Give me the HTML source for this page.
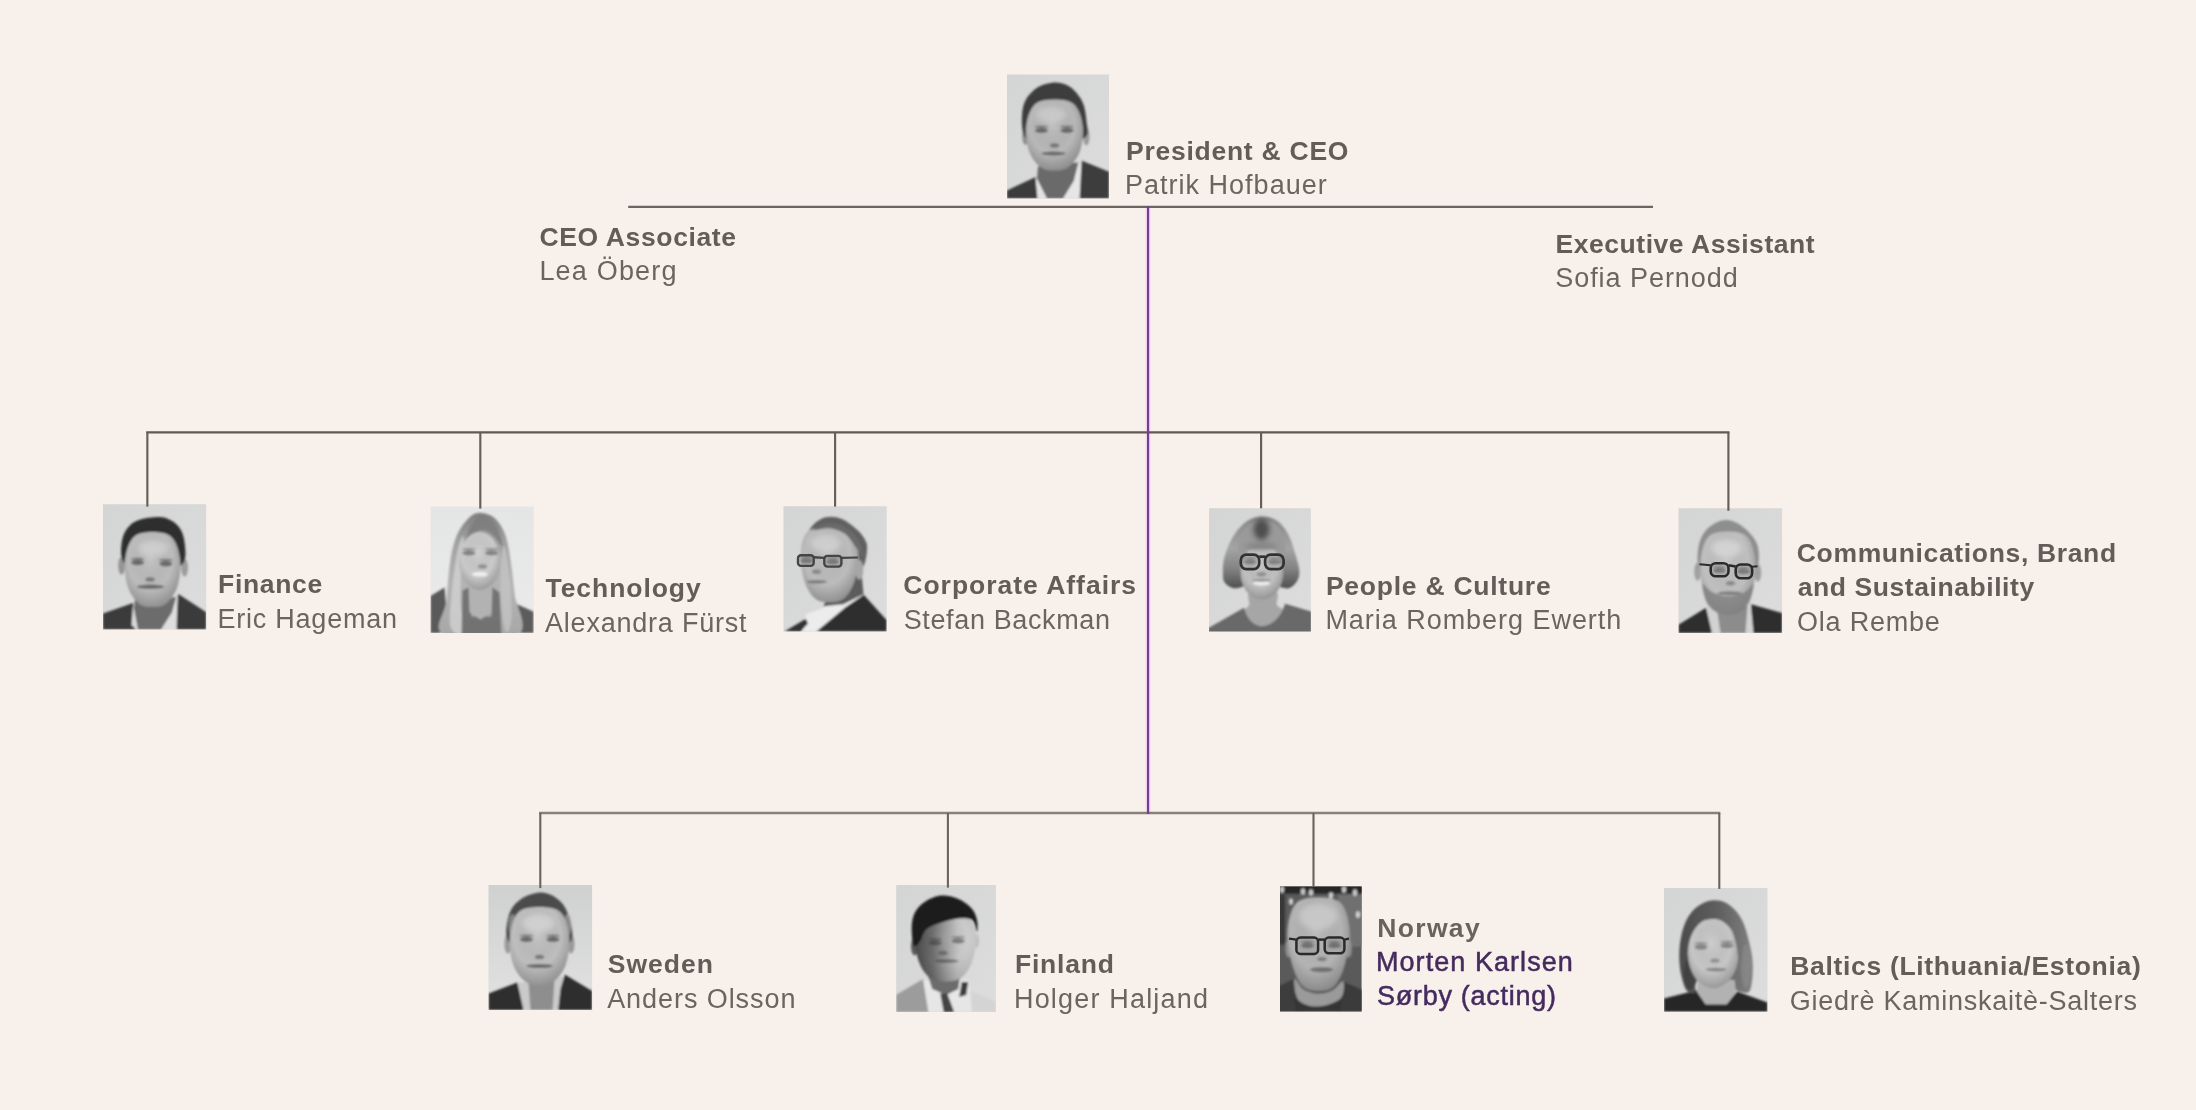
<!DOCTYPE html>
<html lang="en"><head><meta charset="utf-8"><title>Organisation</title>
<style>
html,body{margin:0;padding:0}
body{width:2196px;height:1110px;background:#f8f0eb;position:relative;overflow:hidden;font-family:"Liberation Sans",sans-serif}
.t{position:absolute;white-space:nowrap;font-size:26.5px;line-height:32px;height:32px}
svg.ph{position:absolute;display:block;overflow:hidden}
#ln{position:absolute;left:0;top:0}
#tx{position:absolute;left:0;top:0;width:2196px;height:1110px;will-change:transform}
</style></head><body>
<svg id="ln" width="2196" height="1110" viewBox="0 0 2196 1110">
<defs>
<filter id="b1" x="-20%" y="-20%" width="140%" height="140%"><feGaussianBlur stdDeviation="1.1"/></filter>
<filter id="b2" x="-40%" y="-40%" width="180%" height="180%"><feGaussianBlur stdDeviation="2.6"/></filter>
<filter id="b0" x="-20%" y="-20%" width="140%" height="140%"><feGaussianBlur stdDeviation="0.7"/></filter>
<radialGradient id="fg" cx="0.46" cy="0.36" r="0.72"><stop offset="0" stop-color="#fff" stop-opacity="0.14"/><stop offset="0.55" stop-color="#000" stop-opacity="0"/><stop offset="1" stop-color="#000" stop-opacity="0.30"/></radialGradient>
<linearGradient id="bgA" x1="0" y1="0" x2="1" y2="1"><stop offset="0" stop-color="#d3d4d4"/><stop offset="1" stop-color="#dddddd"/></linearGradient>
<linearGradient id="bgB" x1="0" y1="0" x2="0" y2="1"><stop offset="0" stop-color="#e4e5e5"/><stop offset="1" stop-color="#ebebeb"/></linearGradient>
<linearGradient id="bgC" x1="0" y1="0" x2="0" y2="1"><stop offset="0" stop-color="#cfd0d0"/><stop offset="1" stop-color="#e2e2e2"/></linearGradient>
<linearGradient id="faceLR" x1="0" y1="0" x2="1" y2="0"><stop offset="0" stop-color="#4a4a4a"/><stop offset="0.3" stop-color="#6e6e6e"/><stop offset="0.5" stop-color="#9a9a9a"/><stop offset="0.7" stop-color="#c4c4c4"/><stop offset="1" stop-color="#d4d4d4"/></linearGradient>
<linearGradient id="hairPC" gradientUnits="userSpaceOnUse" x1="0" y1="8" x2="0" y2="80"><stop offset="0" stop-color="#868686"/><stop offset="0.45" stop-color="#a4a4a4"/><stop offset="0.72" stop-color="#848484"/><stop offset="1" stop-color="#505050"/></linearGradient>
<linearGradient id="hairT" gradientUnits="userSpaceOnUse" x1="0" y1="6" x2="0" y2="126"><stop offset="0" stop-color="#7e7e7e"/><stop offset="0.25" stop-color="#a2a2a2"/><stop offset="0.6" stop-color="#b4b4b4"/><stop offset="1" stop-color="#a8a8a8"/></linearGradient>
<linearGradient id="hairB" gradientUnits="userSpaceOnUse" x1="16" y1="0" x2="89" y2="0"><stop offset="0" stop-color="#4c4c4c"/><stop offset="0.5" stop-color="#5e5e5e"/><stop offset="1" stop-color="#808080"/></linearGradient>
</defs>
<clipPath id="c0"><rect width="102" height="124"/></clipPath>
<g transform="translate(1007 74.5)" clip-path="url(#c0)">
<rect x="-2" y="-2" width="106" height="128" fill="url(#bgA)"/>
<g filter="url(#b1)"><polygon points="0.0,116.0 28.6,102.4 31.0,124.0 0.0,124.0" fill="#3b3b3b"/><polygon points="75.0,86.3 102.0,97.3 102.0,124.0 72.0,124.0 71.0,104.0" fill="#3c3c3c"/><polygon points="28.6,103.0 40.0,124.0 30.5,124.0" fill="#e2e2e2"/><polygon points="74.5,87.5 72.6,124.0 56.0,124.0 66.5,105.0" fill="#e6e6e6"/><polygon points="31.0,92.0 71.0,88.0 67.0,106.0 56.0,124.0 40.0,124.0 30.0,104.0" fill="#6a6a6a"/><ellipse cx="18.5" cy="62.0" rx="3.2" ry="8.5" fill="#8e8e8e"/><ellipse cx="79.3" cy="62.0" rx="3.2" ry="9.0" fill="#9a9a9a"/><path d="M17.6,62.0C14.3,56.5 14.3,40.8 16.0,33.0C17.6,25.2 22.6,19.1 27.5,15.0C32.4,10.9 39.5,8.7 45.3,8.2C51.1,7.7 57.5,8.8 62.5,12.0C67.5,15.2 72.7,21.7 75.5,27.5C78.3,33.3 78.9,41.2 79.5,47.0C80.1,52.8 82.2,58.8 79.0,62.0C75.8,65.2 67.2,65.3 60.0,66.0C52.8,66.7 43.1,66.7 36.0,66.0C28.9,65.3 20.9,67.5 17.6,62.0Z" fill="#3d3d3d"/><path d="M27.7,30.0C32.4,25.5 40.9,25.0 47.5,25.0C54.1,25.0 62.6,25.5 67.3,30.0C72.0,34.4 74.9,43.9 75.8,51.6C76.7,59.4 75.3,69.7 73.0,76.5C70.6,83.3 65.9,89.2 61.6,92.5C57.4,95.7 52.2,96.0 47.5,96.0C42.8,96.0 37.6,95.7 33.4,92.5C29.1,89.2 24.4,83.3 22.0,76.5C19.7,69.7 18.3,59.4 19.2,51.6C20.1,43.9 23.0,34.4 27.7,30.0Z" fill="#b8b8b8"/><path d="M27.7,30.0C32.4,25.5 40.9,25.0 47.5,25.0C54.1,25.0 62.6,25.5 67.3,30.0C72.0,34.4 74.9,43.9 75.8,51.6C76.7,59.4 75.3,69.7 73.0,76.5C70.6,83.3 65.9,89.2 61.6,92.5C57.4,95.7 52.2,96.0 47.5,96.0C42.8,96.0 37.6,95.7 33.4,92.5C29.1,89.2 24.4,83.3 22.0,76.5C19.7,69.7 18.3,59.4 19.2,51.6C20.1,43.9 23.0,34.4 27.7,30.0Z" fill="url(#fg)" opacity="1"/><g filter="url(#b2)"><ellipse cx="44.0" cy="40.0" rx="15.0" ry="8.0" fill="#d6d6d6" opacity="0.6"/></g><ellipse cx="34.5" cy="56.0" rx="6.5" ry="2.6" fill="#333" opacity="0.6"/><ellipse cx="34.5" cy="52.2" rx="7.0" ry="1.3" fill="#333" opacity="0.45"/><ellipse cx="60.0" cy="56.0" rx="6.5" ry="2.6" fill="#333" opacity="0.6"/><ellipse cx="60.0" cy="52.2" rx="7.0" ry="1.3" fill="#333" opacity="0.45"/><ellipse cx="47.5" cy="71.0" rx="4.6" ry="2.2" fill="#333" opacity="0.48"/><ellipse cx="46.5" cy="79.0" rx="12.0" ry="1.9" fill="#333" opacity="0.6"/></g>
</g>
<clipPath id="c1"><rect width="103.2" height="125.3"/></clipPath>
<g transform="translate(103 504.2)" clip-path="url(#c1)">
<rect x="-2" y="-2" width="107.2" height="129.3" fill="url(#bgA)"/>
<g filter="url(#b1)"><polygon points="0.0,109.4 30.0,98.9 32.0,125.3 0.0,125.3" fill="#3a3a3a"/><polygon points="75.3,89.7 103.2,108.1 103.2,125.3 73.5,125.3 73.0,104.0" fill="#3a3a3a"/><polygon points="30.0,100.5 35.0,125.3 28.5,121.2" fill="#dadada"/><polygon points="74.7,92.5 73.4,125.3 57.6,125.3 68.5,108.1" fill="#dedede"/><polygon points="32.0,95.0 73.0,93.0 69.0,108.0 58.0,125.3 35.0,125.3 31.0,104.0" fill="#6c6c6c"/><ellipse cx="18.6" cy="61.5" rx="3.4" ry="9.0" fill="#959595"/><ellipse cx="81.6" cy="63.4" rx="3.4" ry="9.0" fill="#9c9c9c"/><path d="M20.1,57.0C17.0,51.8 18.0,40.8 19.4,34.5C20.8,28.2 24.3,23.0 28.7,19.5C33.1,16.0 40.1,14.5 45.8,13.6C51.5,12.7 57.8,12.2 62.9,13.8C68.0,15.5 73.3,19.2 76.5,23.5C79.7,27.8 81.2,33.8 81.8,39.7C82.4,45.6 83.5,54.6 80.2,59.0C76.9,63.4 69.0,64.8 62.0,66.0C55.0,67.2 45.0,67.5 38.0,66.0C31.0,64.5 23.2,62.2 20.1,57.0Z" fill="#2f2f2f"/><path d="M30.3,33.2C34.9,28.5 43.2,27.9 49.6,27.9C56.0,27.9 64.3,28.5 68.9,33.2C73.5,37.8 76.3,47.8 77.2,56.0C78.1,64.2 76.7,75.1 74.4,82.3C72.1,89.5 67.5,95.7 63.4,99.2C59.3,102.6 54.2,102.9 49.6,102.9C45.0,102.9 39.9,102.6 35.8,99.2C31.7,95.7 27.1,89.5 24.8,82.3C22.5,75.1 21.1,64.2 22.0,56.0C22.9,47.8 25.7,37.8 30.3,33.2Z" fill="#bcbcbc"/><path d="M30.3,33.2C34.9,28.5 43.2,27.9 49.6,27.9C56.0,27.9 64.3,28.5 68.9,33.2C73.5,37.8 76.3,47.8 77.2,56.0C78.1,64.2 76.7,75.1 74.4,82.3C72.1,89.5 67.5,95.7 63.4,99.2C59.3,102.6 54.2,102.9 49.6,102.9C45.0,102.9 39.9,102.6 35.8,99.2C31.7,95.7 27.1,89.5 24.8,82.3C22.5,75.1 21.1,64.2 22.0,56.0C22.9,47.8 25.7,37.8 30.3,33.2Z" fill="url(#fg)" opacity="1"/><g filter="url(#b2)"><ellipse cx="50.0" cy="44.0" rx="15.0" ry="8.0" fill="#dadada" opacity="0.6"/></g><ellipse cx="34.6" cy="58.4" rx="6.5" ry="2.6" fill="#333" opacity="0.6"/><ellipse cx="34.6" cy="54.6" rx="7.0" ry="1.3" fill="#333" opacity="0.45"/><ellipse cx="62.9" cy="59.6" rx="6.5" ry="2.6" fill="#333" opacity="0.6"/><ellipse cx="62.9" cy="55.8" rx="7.0" ry="1.3" fill="#333" opacity="0.45"/><ellipse cx="47.1" cy="75.2" rx="4.6" ry="2.2" fill="#333" opacity="0.48"/><ellipse cx="47.5" cy="82.5" rx="13.5" ry="2.2" fill="#333" opacity="0.6"/></g>
</g>
<clipPath id="c2"><rect width="103.2" height="126.5"/></clipPath>
<g transform="translate(430.5 506.5)" clip-path="url(#c2)">
<rect x="-2" y="-2" width="107.2" height="130.5" fill="url(#bgB)"/>
<g filter="url(#b1)"><polygon points="0.0,89.4 14.0,81.0 18.0,126.5 0.0,126.5" fill="#5a5a5a"/><polygon points="85.0,97.0 103.2,105.2 103.2,126.5 84.0,126.5" fill="#5c5c5c"/><path d="M13.1,128.0C1.1,122.5 14.7,106.8 15.8,94.7C16.9,82.6 17.9,66.2 19.7,55.2C21.4,44.2 23.0,36.4 26.3,28.9C29.6,21.4 35.2,14.2 39.4,10.5C43.6,6.8 47.1,6.2 51.3,6.4C55.5,6.6 60.5,8.1 64.4,11.8C68.4,15.6 72.4,21.7 75.0,28.9C77.6,36.1 78.7,45.3 80.2,55.2C81.7,65.1 83.0,76.0 84.2,88.1C85.4,100.2 99.3,121.3 87.5,128.0C75.7,134.7 25.1,133.6 13.1,128.0Z" fill="url(#hairT)"/><path d="M20.0,120.0C18.2,112.3 20.8,92.5 22.0,80.0C23.2,67.5 25.2,53.3 27.0,45.0C28.8,36.7 32.3,27.5 33.0,30.0C33.7,32.5 31.5,49.2 31.0,60.0C30.5,70.8 29.7,84.0 30.0,95.0C30.3,106.0 34.7,121.8 33.0,126.0C31.3,130.2 21.8,127.7 20.0,120.0Z" fill="#d2d2d2" opacity="0.8"/><path d="M70.0,60.0C70.5,50.0 72.5,38.3 74.0,40.0C75.5,41.7 77.8,58.3 79.0,70.0C80.2,81.7 81.5,100.7 81.0,110.0C80.5,119.3 77.7,127.7 76.0,126.0C74.3,124.3 72.0,111.0 71.0,100.0C70.0,89.0 69.5,70.0 70.0,60.0Z" fill="#c6c6c6" opacity="0.75"/><path d="M40.0,20.0C42.7,15.5 47.7,9.0 52.0,9.0C56.3,9.0 62.7,14.8 66.0,20.0C69.3,25.2 73.0,39.0 72.0,40.0C71.0,41.0 64.0,28.7 60.0,26.0C56.0,23.3 52.0,22.3 48.0,24.0C44.0,25.7 37.3,36.7 36.0,36.0C34.7,35.3 37.3,24.5 40.0,20.0Z" fill="#7c7c7c" opacity="0.8"/><polygon points="32.0,84.0 40.0,80.0 41.0,110.0 61.0,110.0 61.0,80.0 69.0,86.0 71.0,128.0 31.0,128.0" fill="#686868" opacity="0.85"/><polygon points="38.0,78.0 62.0,78.0 61.0,106.0 50.0,113.0 39.0,106.0" fill="#b2b2b2"/><ellipse cx="49.3" cy="54.5" rx="20.6" ry="29.0" fill="#cacaca"/><ellipse cx="49.3" cy="54.5" rx="20.6" ry="29.0" fill="url(#fg)"/><ellipse cx="38.4" cy="46.5" rx="6.5" ry="2.6" fill="#333" opacity="0.45"/><ellipse cx="38.4" cy="42.7" rx="7.0" ry="1.3" fill="#333" opacity="0.34"/><ellipse cx="61.1" cy="46.5" rx="6.5" ry="2.6" fill="#333" opacity="0.45"/><ellipse cx="61.1" cy="42.7" rx="7.0" ry="1.3" fill="#333" opacity="0.34"/><ellipse cx="52.0" cy="60.0" rx="4.6" ry="2.2" fill="#333" opacity="0.36"/><ellipse cx="49.5" cy="67.7" rx="8.0" ry="2.4" fill="#f2f2f2" opacity="0.9"/></g>
</g>
<clipPath id="c3"><rect width="103.2" height="125.2"/></clipPath>
<g transform="translate(783.5 506.3)" clip-path="url(#c3)">
<rect x="-2" y="-2" width="107.2" height="129.2" fill="url(#bgA)"/>
<g filter="url(#b1)"><polygon points="22.4,108.1 78.9,87.5 82.0,93.0 36.0,125.2 19.0,125.2" fill="#ececec"/><polygon points="80.2,88.5 103.2,114.0 103.2,125.2 32.9,125.2 62.0,101.0" fill="#2f2f2f"/><polygon points="1.0,125.2 22.4,112.5 24.5,117.3 17.1,125.2" fill="#333"/><path d="M21.0,36.0C20.8,34.2 25.4,23.7 28.9,19.5C32.4,15.3 37.3,12.2 42.1,11.0C46.9,9.8 52.6,10.3 57.9,12.4C63.1,14.5 69.6,19.8 73.6,23.5C77.6,27.2 80.3,31.1 82.0,34.5C83.7,37.9 83.8,39.8 83.5,44.0C83.2,48.2 82.2,55.7 80.0,60.0C77.8,64.3 73.3,73.3 70.0,70.0C66.7,66.7 66.7,46.7 60.0,40.0C53.3,33.3 36.5,30.7 30.0,30.0C23.5,29.3 21.2,37.8 21.0,36.0Z" fill="#606060"/><polygon points="48.0,80.0 78.0,66.0 80.0,88.0 60.0,98.0 40.0,100.0" fill="#5c5c5c"/><path d="M23.5,26.2C28.3,21.6 38.5,21.0 46.0,21.0C53.5,21.0 63.7,21.6 68.5,26.2C73.3,30.9 74.4,40.9 74.8,49.1C75.2,57.3 73.2,68.2 70.8,75.4C68.4,82.6 64.5,88.8 60.4,92.2C56.3,95.7 50.8,96.0 46.0,96.0C41.2,96.0 35.7,95.7 31.6,92.2C27.5,88.8 23.6,82.6 21.2,75.4C18.8,68.2 16.8,57.3 17.2,49.1C17.6,40.9 18.7,30.9 23.5,26.2Z" fill="#bcbcbc"/><path d="M23.5,26.2C28.3,21.6 38.5,21.0 46.0,21.0C53.5,21.0 63.7,21.6 68.5,26.2C73.3,30.9 74.4,40.9 74.8,49.1C75.2,57.3 73.2,68.2 70.8,75.4C68.4,82.6 64.5,88.8 60.4,92.2C56.3,95.7 50.8,96.0 46.0,96.0C41.2,96.0 35.7,95.7 31.6,92.2C27.5,88.8 23.6,82.6 21.2,75.4C18.8,68.2 16.8,57.3 17.2,49.1C17.6,40.9 18.7,30.9 23.5,26.2Z" fill="url(#fg)" opacity="1"/><g filter="url(#b2)"><ellipse cx="42.0" cy="37.0" rx="15.0" ry="9.0" fill="#dadada" opacity="0.6"/></g><path d="M30.0,24.0C29.7,23.2 39.0,17.7 44.0,17.0C49.0,16.3 55.0,17.5 60.0,20.0C65.0,22.5 70.7,27.0 74.0,32.0C77.3,37.0 80.2,48.3 80.0,50.0C79.8,51.7 76.0,45.7 73.0,42.0C70.0,38.3 66.5,31.3 62.0,28.0C57.5,24.7 51.3,22.7 46.0,22.0C40.7,21.3 30.3,24.8 30.0,24.0Z" fill="#6a6a6a"/><ellipse cx="75.8" cy="63.4" rx="4.0" ry="10.0" fill="#a6a6a6"/><ellipse cx="23.0" cy="54.5" rx="6.5" ry="2.6" fill="#333" opacity="0.45"/><ellipse cx="23.0" cy="50.7" rx="7.0" ry="1.3" fill="#333" opacity="0.34"/><ellipse cx="49.0" cy="55.5" rx="6.5" ry="2.6" fill="#333" opacity="0.45"/><ellipse cx="49.0" cy="51.7" rx="7.0" ry="1.3" fill="#333" opacity="0.34"/><ellipse cx="33.0" cy="65.5" rx="4.6" ry="2.2" fill="#333" opacity="0.36"/><ellipse cx="33.5" cy="75.5" rx="10.0" ry="1.8" fill="#333" opacity="0.45"/></g>
<g filter="url(#b0)"><rect x="14.5" y="48.9" width="15.7" height="10.7" rx="3" fill="rgba(90,90,90,0.12)" stroke="#444" stroke-width="2.4"/><rect x="40.8" y="49.6" width="17.1" height="10.7" rx="3" fill="rgba(90,90,90,0.12)" stroke="#444" stroke-width="2.4"/><line x1="30.2" y1="50.9" x2="40.8" y2="51.6" stroke="#444" stroke-width="2.4"/><line x1="57.9" y1="51.5" x2="74.5" y2="51.2" stroke="#444" stroke-width="2.2"/></g>
</g>
<clipPath id="c4"><rect width="101.9" height="123.2"/></clipPath>
<g transform="translate(1209 508.2)" clip-path="url(#c4)">
<rect x="-2" y="-2" width="105.9" height="127.2" fill="url(#bgA)"/>
<g filter="url(#b1)"><path d="M41.0,84.0C45.5,81.8 62.5,81.8 67.0,84.0C71.5,86.2 66.2,93.7 68.0,97.0C69.8,100.3 78.7,100.7 78.0,104.0C77.3,107.3 69.7,114.8 64.0,117.0C58.3,119.2 49.3,119.0 44.0,117.0C38.7,115.0 32.7,108.3 32.0,105.0C31.3,101.7 38.5,100.5 40.0,97.0C41.5,93.5 36.5,86.2 41.0,84.0Z" fill="#a6a6a6"/><path d="M-1,120 L35,99.5 C38,112 46,118 53,118 C62,118 72,110 76,95.6 L103,103.5 L103,125 L-1,125Z" fill="#696969"/><path d="M14.0,66.0C13.9,62.0 13.6,56.0 15.2,50.0C16.8,44.0 19.8,35.8 23.3,29.8C26.8,23.8 31.6,17.6 36.4,14.0C41.2,10.4 46.9,8.6 52.2,8.4C57.5,8.2 63.4,9.5 68.0,12.6C72.6,15.7 76.7,21.5 79.8,27.2C82.9,32.9 84.8,41.1 86.6,46.9C88.3,52.7 90.0,57.8 90.3,62.0C90.6,66.2 90.0,69.1 88.5,72.0C87.0,74.9 83.8,78.3 81.0,79.5C78.2,80.7 76.8,80.2 72.0,79.0C67.2,77.8 58.7,72.0 52.0,72.0C45.3,72.0 36.8,77.8 32.0,79.0C27.2,80.2 25.8,80.3 23.0,79.5C20.2,78.7 17.0,76.2 15.5,74.0C14.0,71.8 14.1,70.0 14.0,66.0Z" fill="url(#hairPC)"/><ellipse cx="52.9" cy="64.0" rx="21.3" ry="27.5" fill="#c0c0c0"/><ellipse cx="52.9" cy="64.0" rx="21.3" ry="27.5" fill="url(#fg)"/><path d="M30.5,46.0C28.7,43.8 29.1,33.2 31.0,28.0C32.9,22.8 38.3,17.7 42.0,15.0C45.7,12.3 49.0,11.8 53.0,12.0C57.0,12.2 62.4,13.3 66.0,16.0C69.6,18.7 72.9,23.0 74.5,28.0C76.1,33.0 77.2,43.8 75.5,46.0C73.8,48.2 69.6,42.2 64.0,41.5C58.4,40.8 47.6,40.8 42.0,41.5C36.4,42.2 32.3,48.2 30.5,46.0Z" fill="#9a9a9a"/><g filter="url(#b2)"><ellipse cx="52.5" cy="21.0" rx="8.0" ry="11.0" fill="#2e2e2e" opacity="0.7"/></g><g filter="url(#b2)"><ellipse cx="52.5" cy="38.0" rx="16.0" ry="3.0" fill="#6a6a6a" opacity="0.5"/></g><ellipse cx="41.0" cy="53.8" rx="6.5" ry="2.6" fill="#333" opacity="0.4"/><ellipse cx="41.0" cy="50.0" rx="7.0" ry="1.3" fill="#333" opacity="0.30"/><ellipse cx="65.5" cy="53.8" rx="6.5" ry="2.6" fill="#333" opacity="0.4"/><ellipse cx="65.5" cy="50.0" rx="7.0" ry="1.3" fill="#333" opacity="0.30"/><ellipse cx="52.5" cy="66.0" rx="4.6" ry="2.2" fill="#333" opacity="0.32"/><ellipse cx="52.5" cy="74.8" rx="8.5" ry="2.5" fill="#f2f2f2" opacity="0.9"/><ellipse cx="52.5" cy="72.3" rx="9.5" ry="1.2" fill="#444" opacity="0.5"/></g>
<g filter="url(#b0)"><rect x="31.8" y="46.5" width="18.4" height="14.4" rx="5.5" fill="rgba(90,90,90,0.12)" stroke="#333" stroke-width="2.7"/><rect x="56.1" y="46.5" width="18.5" height="14.4" rx="5.5" fill="rgba(90,90,90,0.12)" stroke="#333" stroke-width="2.7"/><line x1="50.2" y1="48.5" x2="56.1" y2="48.5" stroke="#333" stroke-width="2.7"/></g>
</g>
<clipPath id="c5"><rect width="103.6" height="124.8"/></clipPath>
<g transform="translate(1678.5 508.2)" clip-path="url(#c5)">
<rect x="-2" y="-2" width="107.6" height="128.8" fill="url(#bgA)"/>
<g filter="url(#b1)"><polygon points="27.6,100.0 72.3,97.0 76.0,124.8 32.0,124.8" fill="#d2d2d2"/><polygon points="38.0,98.0 69.0,98.0 67.0,124.8 42.0,124.8" fill="#8c8c8c"/><polygon points="0.0,116.6 27.6,99.5 33.5,124.8 0.0,124.8" fill="#2d2d2d"/><polygon points="72.3,96.0 103.6,104.8 103.6,124.8 75.0,124.8" fill="#2d2d2d"/><ellipse cx="19.1" cy="63.5" rx="3.4" ry="9.0" fill="#a0a0a0"/><ellipse cx="79.3" cy="64.5" rx="3.4" ry="9.0" fill="#a0a0a0"/><path d="M21.0,60.0C18.0,55.3 19.1,44.0 20.2,37.7C21.3,31.4 24.0,26.2 27.6,22.0C31.2,17.8 37.5,14.1 42.1,12.6C46.7,11.1 50.8,11.6 55.2,13.2C59.6,14.8 64.4,17.9 68.4,22.0C72.4,26.1 77.6,31.4 79.2,37.7C80.8,44.0 81.2,55.3 78.0,60.0C74.8,64.7 66.7,65.0 60.0,66.0C53.3,67.0 44.5,67.0 38.0,66.0C31.5,65.0 24.0,64.7 21.0,60.0Z" fill="#8e8e8e"/><path d="M29.4,29.1C34.0,23.9 42.7,23.3 49.3,23.3C55.9,23.3 64.6,23.9 69.2,29.1C73.8,34.3 76.2,45.3 76.9,54.4C77.6,63.4 75.9,75.4 73.6,83.3C71.3,91.3 67.1,98.2 63.1,102.0C59.1,105.8 53.9,106.1 49.3,106.1C44.7,106.1 39.5,105.8 35.5,102.0C31.5,98.2 27.3,91.3 25.0,83.3C22.7,75.4 21.0,63.4 21.7,54.4C22.4,45.3 24.8,34.3 29.4,29.1Z" fill="#c0c0c0"/><path d="M29.4,29.1C34.0,23.9 42.7,23.3 49.3,23.3C55.9,23.3 64.6,23.9 69.2,29.1C73.8,34.3 76.2,45.3 76.9,54.4C77.6,63.4 75.9,75.4 73.6,83.3C71.3,91.3 67.1,98.2 63.1,102.0C59.1,105.8 53.9,106.1 49.3,106.1C44.7,106.1 39.5,105.8 35.5,102.0C31.5,98.2 27.3,91.3 25.0,83.3C22.7,75.4 21.0,63.4 21.7,54.4C22.4,45.3 24.8,34.3 29.4,29.1Z" fill="url(#fg)" opacity="1"/><g filter="url(#b2)"><ellipse cx="48.0" cy="40.0" rx="15.0" ry="9.0" fill="#dedede" opacity="0.65"/></g><path d="M24.0,76.0C24.8,74.0 29.7,82.0 34.0,84.0C38.3,86.0 44.7,88.0 50.0,88.0C55.3,88.0 61.8,86.0 66.0,84.0C70.2,82.0 74.3,74.0 75.0,76.0C75.7,78.0 72.8,91.1 70.0,96.0C67.2,100.9 62.7,103.9 58.0,105.5C53.3,107.1 46.8,107.1 42.0,105.5C37.2,103.9 32.0,100.9 29.0,96.0C26.0,91.1 23.2,78.0 24.0,76.0Z" fill="#7c7c7c" opacity="0.75"/><ellipse cx="41.0" cy="62.5" rx="6.5" ry="2.6" fill="#333" opacity="0.45"/><ellipse cx="41.0" cy="58.7" rx="7.0" ry="1.3" fill="#333" opacity="0.34"/><ellipse cx="65.0" cy="63.5" rx="6.5" ry="2.6" fill="#333" opacity="0.45"/><ellipse cx="65.0" cy="59.7" rx="7.0" ry="1.3" fill="#333" opacity="0.34"/><ellipse cx="52.0" cy="75.0" rx="4.6" ry="2.2" fill="#333" opacity="0.36"/><ellipse cx="51.0" cy="85.0" rx="12.0" ry="2.0" fill="#333" opacity="0.45"/></g>
<g filter="url(#b0)"><rect x="32.2" y="55.0" width="17.8" height="13.0" rx="5" fill="rgba(90,90,90,0.12)" stroke="#2c2c2c" stroke-width="2.6"/><rect x="57.2" y="56.3" width="16.4" height="13.7" rx="5" fill="rgba(90,90,90,0.12)" stroke="#2c2c2c" stroke-width="2.6"/><line x1="50.0" y1="57.0" x2="57.2" y2="58.3" stroke="#2c2c2c" stroke-width="2.6"/><line x1="32.2" y1="57" x2="21" y2="56" stroke="#2c2c2c" stroke-width="2"/><line x1="73.6" y1="58.5" x2="79" y2="58" stroke="#2c2c2c" stroke-width="2"/></g>
</g>
<clipPath id="c6"><rect width="103.6" height="124.9"/></clipPath>
<g transform="translate(488.5 885)" clip-path="url(#c6)">
<rect x="-2" y="-2" width="107.6" height="128.9" fill="url(#bgC)"/>
<g filter="url(#b1)"><polygon points="28.9,98.0 75.6,91.5 70.5,124.9 34.0,124.9" fill="#cacaca"/><polygon points="40.0,98.0 66.0,96.0 64.0,124.9 42.0,124.9" fill="#8e8e8e"/><polygon points="0.0,108.5 28.9,97.5 35.0,124.9 0.0,124.9" fill="#2e2e2e"/><polygon points="76.3,89.5 103.6,105.9 103.6,124.9 69.7,124.9 72.0,104.0" fill="#2e2e2e"/><ellipse cx="19.3" cy="59.0" rx="3.4" ry="9.5" fill="#9a9a9a"/><ellipse cx="82.6" cy="59.0" rx="3.4" ry="9.5" fill="#9a9a9a"/><path d="M19.1,55.0C16.2,49.6 18.5,36.3 20.6,29.6C22.7,22.9 26.5,18.5 31.6,14.8C36.7,11.1 45.2,7.8 51.3,7.6C57.4,7.4 63.8,10.0 68.4,13.5C73.1,16.9 76.7,21.4 79.2,28.3C81.7,35.2 85.7,49.4 83.2,55.0C80.7,60.6 71.5,60.8 64.0,62.0C56.5,63.2 45.5,63.2 38.0,62.0C30.5,60.8 22.0,60.4 19.1,55.0Z" fill="#4c4c4c"/><ellipse cx="24.0" cy="40.0" rx="4.0" ry="11.0" fill="#9c9c9c" opacity="0.7"/><ellipse cx="79.0" cy="40.0" rx="4.0" ry="11.0" fill="#a4a4a4" opacity="0.7"/><path d="M29.7,27.5C34.6,22.6 43.9,22.0 51.0,22.0C58.1,22.0 67.4,22.6 72.3,27.5C77.2,32.3 79.7,42.7 80.6,51.2C81.5,59.8 80.1,71.1 77.6,78.5C75.2,86.0 70.2,92.5 65.8,96.1C61.4,99.7 55.9,100.0 51.0,100.0C46.1,100.0 40.6,99.7 36.2,96.1C31.8,92.5 26.8,86.0 24.4,78.5C21.9,71.1 20.5,59.8 21.4,51.2C22.3,42.7 24.8,32.3 29.7,27.5Z" fill="#bebebe"/><path d="M29.7,27.5C34.6,22.6 43.9,22.0 51.0,22.0C58.1,22.0 67.4,22.6 72.3,27.5C77.2,32.3 79.7,42.7 80.6,51.2C81.5,59.8 80.1,71.1 77.6,78.5C75.2,86.0 70.2,92.5 65.8,96.1C61.4,99.7 55.9,100.0 51.0,100.0C46.1,100.0 40.6,99.7 36.2,96.1C31.8,92.5 26.8,86.0 24.4,78.5C21.9,71.1 20.5,59.8 21.4,51.2C22.3,42.7 24.8,32.3 29.7,27.5Z" fill="url(#fg)" opacity="1"/><g filter="url(#b2)"><ellipse cx="50.0" cy="38.0" rx="16.0" ry="9.0" fill="#dcdcdc" opacity="0.65"/></g><ellipse cx="38.0" cy="54.5" rx="6.5" ry="2.6" fill="#333" opacity="0.6"/><ellipse cx="38.0" cy="50.7" rx="7.0" ry="1.3" fill="#333" opacity="0.45"/><ellipse cx="64.5" cy="54.5" rx="6.5" ry="2.6" fill="#333" opacity="0.6"/><ellipse cx="64.5" cy="50.7" rx="7.0" ry="1.3" fill="#333" opacity="0.45"/><ellipse cx="51.0" cy="72.0" rx="4.6" ry="2.2" fill="#333" opacity="0.48"/><ellipse cx="51.0" cy="81.0" rx="13.0" ry="2.0" fill="#333" opacity="0.6"/></g>
</g>
<clipPath id="c7"><rect width="99.7" height="126.9"/></clipPath>
<g transform="translate(896.2 885)" clip-path="url(#c7)">
<rect x="-2" y="-2" width="103.7" height="130.9" fill="url(#bgA)"/>
<g filter="url(#b1)"><polygon points="0.0,109.8 27.0,94.0 33.0,126.9 0.0,126.9" fill="#9c9c9c"/><polygon points="74.3,106.0 99.7,116.4 99.7,126.9 74.3,126.9" fill="#d4d4d4"/><polygon points="27.0,95.3 32.2,126.9 75.6,126.9 73.0,95.3" fill="#e6e6e6"/><polygon points="31.0,88.0 64.0,90.0 62.0,104.0 50.0,110.0 36.0,104.0" fill="#6c6c6c"/><polygon points="65.5,97.0 72.0,97.0 70.0,110.0 63.0,112.0" fill="#3c3c3c"/><polygon points="44.0,108.5 51.0,108.5 58.0,126.9 47.5,126.9" fill="#444"/><ellipse cx="18.4" cy="61.5" rx="3.6" ry="9.0" fill="#5a5a5a"/><ellipse cx="80.3" cy="56.0" rx="2.6" ry="7.0" fill="#c0c0c0"/><path d="M25.6,33.3C30.7,29.0 41.4,28.5 49.3,28.5C57.2,28.5 67.9,29.0 73.0,33.3C78.1,37.5 79.3,46.6 79.7,54.0C80.1,61.4 78.0,71.3 75.4,77.8C72.9,84.3 68.9,90.0 64.5,93.1C60.1,96.2 54.4,96.5 49.3,96.5C44.2,96.5 38.5,96.2 34.1,93.1C29.7,90.0 25.7,84.3 23.2,77.8C20.6,71.3 18.5,61.4 18.9,54.0C19.3,46.6 20.5,37.5 25.6,33.3Z" fill="url(#faceLR)"/><path d="M25.6,33.3C30.7,29.0 41.4,28.5 49.3,28.5C57.2,28.5 67.9,29.0 73.0,33.3C78.1,37.5 79.3,46.6 79.7,54.0C80.1,61.4 78.0,71.3 75.4,77.8C72.9,84.3 68.9,90.0 64.5,93.1C60.1,96.2 54.4,96.5 49.3,96.5C44.2,96.5 38.5,96.2 34.1,93.1C29.7,90.0 25.7,84.3 23.2,77.8C20.6,71.3 18.5,61.4 18.9,54.0C19.3,46.6 20.5,37.5 25.6,33.3Z" fill="url(#fg)" opacity="0.5"/><path d="M17.2,60.0C15.9,56.5 14.9,42.6 16.0,36.0C17.1,29.4 19.7,24.7 24.0,20.5C28.3,16.3 35.8,12.2 42.0,11.0C48.2,9.8 55.5,11.5 61.0,13.5C66.5,15.5 71.7,19.4 75.0,23.0C78.3,26.6 79.9,31.0 80.8,35.0C81.7,39.0 81.3,47.0 80.5,47.0C79.7,47.0 79.1,37.2 76.0,35.0C72.9,32.8 67.3,33.0 62.0,33.5C56.7,34.0 49.3,36.2 44.0,38.0C38.7,39.8 33.4,41.3 30.0,44.5C26.6,47.7 25.6,54.4 23.5,57.0C21.4,59.6 18.4,63.5 17.2,60.0Z" fill="#1f1f1f"/><ellipse cx="39.0" cy="58.0" rx="6.5" ry="2.6" fill="#333" opacity="0.5"/><ellipse cx="39.0" cy="54.2" rx="7.0" ry="1.3" fill="#333" opacity="0.38"/><ellipse cx="62.0" cy="56.0" rx="6.5" ry="2.6" fill="#333" opacity="0.5"/><ellipse cx="62.0" cy="52.2" rx="7.0" ry="1.3" fill="#333" opacity="0.38"/><ellipse cx="47.0" cy="68.0" rx="4.6" ry="2.2" fill="#333" opacity="0.40"/><ellipse cx="50.5" cy="76.0" rx="12.0" ry="1.8" fill="#333" opacity="0.5"/></g>
</g>
<clipPath id="c8"><rect width="81.6" height="124.9"/></clipPath>
<g transform="translate(1280 886.6)" clip-path="url(#c8)">
<rect x="-2" y="-2" width="85.6" height="128.9" fill="#5a5a5a"/>
<g filter="url(#b1)"><rect x="-2.0" y="-2.0" width="86.0" height="9.0" fill="#262626"/><rect x="58.0" y="8.0" width="26.0" height="52.0" fill="#747474" opacity="0.85"/><rect x="-2.0" y="8.0" width="7.0" height="50.0" fill="#2e2e2e" opacity="0.8"/><ellipse cx="2.0" cy="3.0" rx="2.2" ry="3.4" fill="#e0e0e0" opacity="0.85"/><ellipse cx="11.0" cy="15.0" rx="2.2" ry="3.4" fill="#e0e0e0" opacity="0.85"/><ellipse cx="23.0" cy="5.0" rx="2.2" ry="3.4" fill="#e0e0e0" opacity="0.85"/><ellipse cx="31.0" cy="6.0" rx="2.2" ry="3.4" fill="#e0e0e0" opacity="0.85"/><ellipse cx="51.0" cy="9.0" rx="2.2" ry="3.4" fill="#e0e0e0" opacity="0.85"/><ellipse cx="75.0" cy="6.0" rx="2.2" ry="3.4" fill="#e0e0e0" opacity="0.85"/><ellipse cx="78.0" cy="28.0" rx="2.2" ry="3.4" fill="#e0e0e0" opacity="0.85"/><ellipse cx="64.0" cy="3.0" rx="2.2" ry="3.4" fill="#e0e0e0" opacity="0.85"/><polygon points="-2.0,100.0 15.0,92.0 20.0,124.9 -2.0,124.9" fill="#3c3c3c"/><polygon points="63.0,95.0 83.6,104.0 83.6,124.9 58.0,124.9" fill="#3a3a3a"/><polygon points="14.0,113.0 62.0,113.0 60.0,124.9 16.0,124.9" fill="#353535"/><path d="M14.5,92.0C13.6,93.7 14.5,108.6 18.4,113.3C22.3,118.0 31.1,120.1 38.1,119.9C45.1,119.7 56.3,116.2 60.5,112.0C64.7,107.8 64.5,95.8 63.1,94.5C61.7,93.2 56.2,101.9 52.0,104.0C47.8,106.1 42.7,107.2 38.0,107.0C33.3,106.8 27.9,105.5 24.0,103.0C20.1,100.5 15.4,90.3 14.5,92.0Z" fill="#9a9a9a"/><ellipse cx="8.5" cy="62.0" rx="3.2" ry="9.0" fill="#8e8e8e"/><ellipse cx="68.8" cy="62.0" rx="3.2" ry="9.0" fill="#8e8e8e"/><path d="M15.4,17.3C20.6,11.4 30.8,10.7 38.5,10.7C46.2,10.7 56.4,11.4 61.6,17.3C66.8,23.1 69.2,35.6 69.7,45.8C70.2,56.0 67.3,69.6 64.7,78.6C62.1,87.5 58.5,95.3 54.1,99.6C49.7,103.9 43.7,104.3 38.5,104.3C33.3,104.3 27.3,103.9 22.9,99.6C18.5,95.3 14.9,87.5 12.3,78.6C9.7,69.6 6.8,56.0 7.3,45.8C7.8,35.6 10.2,23.1 15.4,17.3Z" fill="#b4b4b4"/><path d="M15.4,17.3C20.6,11.4 30.8,10.7 38.5,10.7C46.2,10.7 56.4,11.4 61.6,17.3C66.8,23.1 69.2,35.6 69.7,45.8C70.2,56.0 67.3,69.6 64.7,78.6C62.1,87.5 58.5,95.3 54.1,99.6C49.7,103.9 43.7,104.3 38.5,104.3C33.3,104.3 27.3,103.9 22.9,99.6C18.5,95.3 14.9,87.5 12.3,78.6C9.7,69.6 6.8,56.0 7.3,45.8C7.8,35.6 10.2,23.1 15.4,17.3Z" fill="url(#fg)" opacity="1"/><g filter="url(#b2)"><ellipse cx="38.0" cy="30.0" rx="19.0" ry="13.0" fill="#d0d0d0" opacity="0.7"/></g><ellipse cx="27.5" cy="59.0" rx="6.5" ry="2.6" fill="#333" opacity="0.5"/><ellipse cx="27.5" cy="55.2" rx="7.0" ry="1.3" fill="#333" opacity="0.38"/><ellipse cx="54.5" cy="59.0" rx="6.5" ry="2.6" fill="#333" opacity="0.5"/><ellipse cx="54.5" cy="55.2" rx="7.0" ry="1.3" fill="#333" opacity="0.38"/><ellipse cx="42.0" cy="72.5" rx="4.6" ry="2.2" fill="#333" opacity="0.40"/><ellipse cx="41.5" cy="83.0" rx="11.5" ry="2.6" fill="#333" opacity="0.5"/></g>
<g filter="url(#b0)"><rect x="16.4" y="51.0" width="21.7" height="16.3" rx="4" fill="rgba(90,90,90,0.12)" stroke="#2a2a2a" stroke-width="2.5"/><rect x="44.7" y="51.0" width="19.7" height="15.7" rx="4" fill="rgba(90,90,90,0.12)" stroke="#2a2a2a" stroke-width="2.5"/><line x1="38.1" y1="53.0" x2="44.7" y2="53.0" stroke="#2a2a2a" stroke-width="2.5"/><line x1="16.4" y1="53" x2="9" y2="52" stroke="#2a2a2a" stroke-width="2.4"/><line x1="64.4" y1="53" x2="69" y2="52" stroke="#2a2a2a" stroke-width="2.4"/></g>
</g>
<clipPath id="c9"><rect width="103.5" height="123.6"/></clipPath>
<g transform="translate(1664 888.1)" clip-path="url(#c9)">
<rect x="-2" y="-2" width="107.5" height="127.6" fill="url(#bgA)"/>
<g filter="url(#b1)"><polygon points="0.0,110.5 33.8,102.0 41.7,115.5 62.7,115.5 73.2,103.5 103.5,114.4 103.5,123.6 0.0,123.6" fill="#252525"/><path d="M16.0,80.0C15.0,72.3 15.0,63.1 16.0,55.2C17.0,47.4 19.0,39.1 22.0,32.9C25.0,26.7 29.2,21.6 33.8,18.2C38.4,14.8 44.3,12.4 49.6,12.2C54.9,12.0 60.6,13.4 65.4,16.8C70.2,20.2 75.0,25.6 78.5,32.9C82.0,40.2 84.9,52.6 86.6,60.5C88.3,68.3 88.8,73.2 88.8,80.0C88.8,86.8 87.9,97.1 86.4,101.2C84.9,105.3 82.9,105.0 79.8,104.5C76.7,104.0 73.0,103.8 68.0,98.0C63.0,92.2 55.9,70.7 50.0,70.0C44.1,69.3 35.6,88.2 32.5,94.0C29.4,99.8 33.0,103.2 31.2,104.5C29.4,105.8 24.5,105.6 22.0,101.5C19.5,97.4 17.0,87.7 16.0,80.0Z" fill="url(#hairB)"/><ellipse cx="26.0" cy="85.0" rx="6.0" ry="17.0" fill="#3c3c3c" opacity="0.7"/><ellipse cx="82.0" cy="78.0" rx="5.0" ry="22.0" fill="#8e8e8e" opacity="0.6"/><polygon points="33.8,92.0 70.6,92.0 72.0,104.0 62.7,116.5 41.7,116.5 33.0,104.0" fill="#b2b2b2"/><ellipse cx="49.2" cy="65.0" rx="25.3" ry="35.2" fill="#c6c6c6"/><ellipse cx="49.2" cy="65.0" rx="25.3" ry="35.2" fill="url(#fg)"/><path d="M23.0,52.0C22.7,49.7 22.2,41.2 24.0,36.0C25.8,30.8 29.5,24.5 33.8,21.0C38.1,17.5 44.3,15.3 49.6,15.0C54.9,14.7 61.0,15.8 65.4,19.0C69.8,22.2 73.7,27.8 76.0,34.0C78.3,40.2 79.0,48.3 79.0,56.0C79.0,63.7 77.2,80.0 76.0,80.0C74.8,80.0 73.7,62.7 72.0,56.0C70.3,49.3 69.3,44.2 66.0,40.0C62.7,35.8 57.5,31.8 52.2,31.0C46.9,30.2 38.4,31.8 34.0,35.0C29.6,38.2 27.8,47.2 26.0,50.0C24.2,52.8 23.3,54.3 23.0,52.0Z" fill="url(#hairB)"/><ellipse cx="37.0" cy="59.0" rx="6.5" ry="2.6" fill="#333" opacity="0.42"/><ellipse cx="37.0" cy="55.2" rx="7.0" ry="1.3" fill="#333" opacity="0.32"/><ellipse cx="63.0" cy="57.5" rx="6.5" ry="2.6" fill="#333" opacity="0.42"/><ellipse cx="63.0" cy="53.7" rx="7.0" ry="1.3" fill="#333" opacity="0.32"/><ellipse cx="51.0" cy="72.5" rx="4.6" ry="2.2" fill="#333" opacity="0.34"/><ellipse cx="52.0" cy="81.5" rx="10.5" ry="1.8" fill="#333" opacity="0.42"/></g>
</g>
<line x1="1148.05" y1="207" x2="1148.05" y2="813.6" stroke="#f6daf7" stroke-width="5.2"/>
<line x1="628.2" y1="206.8" x2="1653" y2="206.8" stroke="#6e6461" stroke-width="2.15"/>
<line x1="146.2" y1="432.4" x2="1729.5" y2="432.4" stroke="#625854" stroke-width="2.15"/>
<line x1="539.1" y1="813.0" x2="1720.3" y2="813.0" stroke="#8a807a" stroke-width="2.3"/>
<line x1="1148.05" y1="206.2" x2="1148.05" y2="814.0" stroke="#733f8c" stroke-width="2.2"/>
<line x1="147.35" y1="432.4" x2="147.35" y2="506.6" stroke="#675d59" stroke-width="2.15"/>
<line x1="480.3" y1="432.4" x2="480.3" y2="508.6" stroke="#675d59" stroke-width="2.15"/>
<line x1="835.1" y1="432.4" x2="835.1" y2="506.6" stroke="#675d59" stroke-width="2.15"/>
<line x1="1261.1" y1="432.4" x2="1261.1" y2="508.3" stroke="#675d59" stroke-width="2.15"/>
<line x1="1728.4" y1="432.4" x2="1728.4" y2="510.8" stroke="#675d59" stroke-width="2.15"/>
<line x1="540.3" y1="813.0" x2="540.3" y2="888.1" stroke="#6b615d" stroke-width="2.1"/>
<line x1="947.9" y1="813.0" x2="947.9" y2="887.6" stroke="#6b615d" stroke-width="2.1"/>
<line x1="1313.5" y1="813.0" x2="1313.5" y2="886.7" stroke="#6b615d" stroke-width="2.1"/>
<line x1="1719.3" y1="813.0" x2="1719.3" y2="888.9" stroke="#6b615d" stroke-width="2.1"/>
</svg>
<div id="tx">
<div class="t" style="left:1126.00px;top:134.72px;font-size:26.5px;font-weight:700;letter-spacing:0.740px;color:#655b57">President &amp; CEO</div>
<div class="t" style="left:539.50px;top:220.52px;font-size:26.5px;font-weight:700;letter-spacing:0.629px;color:#655b57">CEO Associate</div>
<div class="t" style="left:1555.60px;top:228.02px;font-size:26.5px;font-weight:700;letter-spacing:0.530px;color:#655b57">Executive Assistant</div>
<div class="t" style="left:218.10px;top:568.02px;font-size:26.5px;font-weight:700;letter-spacing:0.650px;color:#655b57">Finance</div>
<div class="t" style="left:545.50px;top:571.72px;font-size:26.5px;font-weight:700;letter-spacing:0.945px;color:#655b57">Technology</div>
<div class="t" style="left:903.30px;top:569.42px;font-size:26.5px;font-weight:700;letter-spacing:0.988px;color:#655b57">Corporate Affairs</div>
<div class="t" style="left:1325.90px;top:569.72px;font-size:26.5px;font-weight:700;letter-spacing:0.749px;color:#655b57">People &amp; Culture</div>
<div class="t" style="left:1796.80px;top:536.62px;font-size:26.5px;font-weight:700;letter-spacing:0.652px;color:#655b57">Communications, Brand</div>
<div class="t" style="left:1797.80px;top:571.12px;font-size:26.5px;font-weight:700;letter-spacing:0.563px;color:#655b57">and Sustainability</div>
<div class="t" style="left:607.80px;top:948.12px;font-size:26.5px;font-weight:700;letter-spacing:0.990px;color:#655b57">Sweden</div>
<div class="t" style="left:1015.00px;top:948.12px;font-size:26.5px;font-weight:700;letter-spacing:0.779px;color:#655b57">Finland</div>
<div class="t" style="left:1377.30px;top:911.62px;font-size:26.5px;font-weight:700;letter-spacing:1.322px;color:#6c625d">Norway</div>
<div class="t" style="left:1790.20px;top:949.62px;font-size:26.5px;font-weight:700;letter-spacing:0.683px;color:#655b57">Baltics (Lithuania/Estonia)</div>
<div class="t" style="left:1125.00px;top:169.04px;font-size:27.0px;font-weight:400;letter-spacing:1.007px;color:#6e645f">Patrik Hofbauer</div>
<div class="t" style="left:539.40px;top:254.94px;font-size:27.0px;font-weight:400;letter-spacing:1.191px;color:#6e645f">Lea Öberg</div>
<div class="t" style="left:1555.20px;top:262.24px;font-size:27.0px;font-weight:400;letter-spacing:0.958px;color:#6e645f">Sofia Pernodd</div>
<div class="t" style="left:217.40px;top:602.54px;font-size:27.0px;font-weight:400;letter-spacing:0.777px;color:#6e645f">Eric Hageman</div>
<div class="t" style="left:545.00px;top:606.54px;font-size:27.0px;font-weight:400;letter-spacing:0.787px;color:#6e645f">Alexandra Fürst</div>
<div class="t" style="left:903.70px;top:604.04px;font-size:27.0px;font-weight:400;letter-spacing:0.631px;color:#6e645f">Stefan Backman</div>
<div class="t" style="left:1325.40px;top:604.04px;font-size:27.0px;font-weight:400;letter-spacing:0.964px;color:#6e645f">Maria Romberg Ewerth</div>
<div class="t" style="left:1797.00px;top:606.04px;font-size:27.0px;font-weight:400;letter-spacing:0.783px;color:#6e645f">Ola Rembe</div>
<div class="t" style="left:607.20px;top:982.94px;font-size:27.0px;font-weight:400;letter-spacing:0.928px;color:#6e645f">Anders Olsson</div>
<div class="t" style="left:1014.00px;top:982.94px;font-size:27.0px;font-weight:400;letter-spacing:1.178px;color:#6e645f">Holger Haljand</div>
<div class="t" style="left:1376.00px;top:946.04px;font-size:27.0px;font-weight:400;letter-spacing:1.057px;color:#452a5e;-webkit-text-stroke:0.5px #452a5e">Morten Karlsen</div>
<div class="t" style="left:1377.00px;top:980.24px;font-size:27.0px;font-weight:400;letter-spacing:0.719px;color:#452a5e;-webkit-text-stroke:0.5px #452a5e">Sørby (acting)</div>
<div class="t" style="left:1789.70px;top:984.54px;font-size:27.0px;font-weight:400;letter-spacing:0.747px;color:#6e645f">Giedrè Kaminskaitè-Salters</div>
</div>
</body></html>
